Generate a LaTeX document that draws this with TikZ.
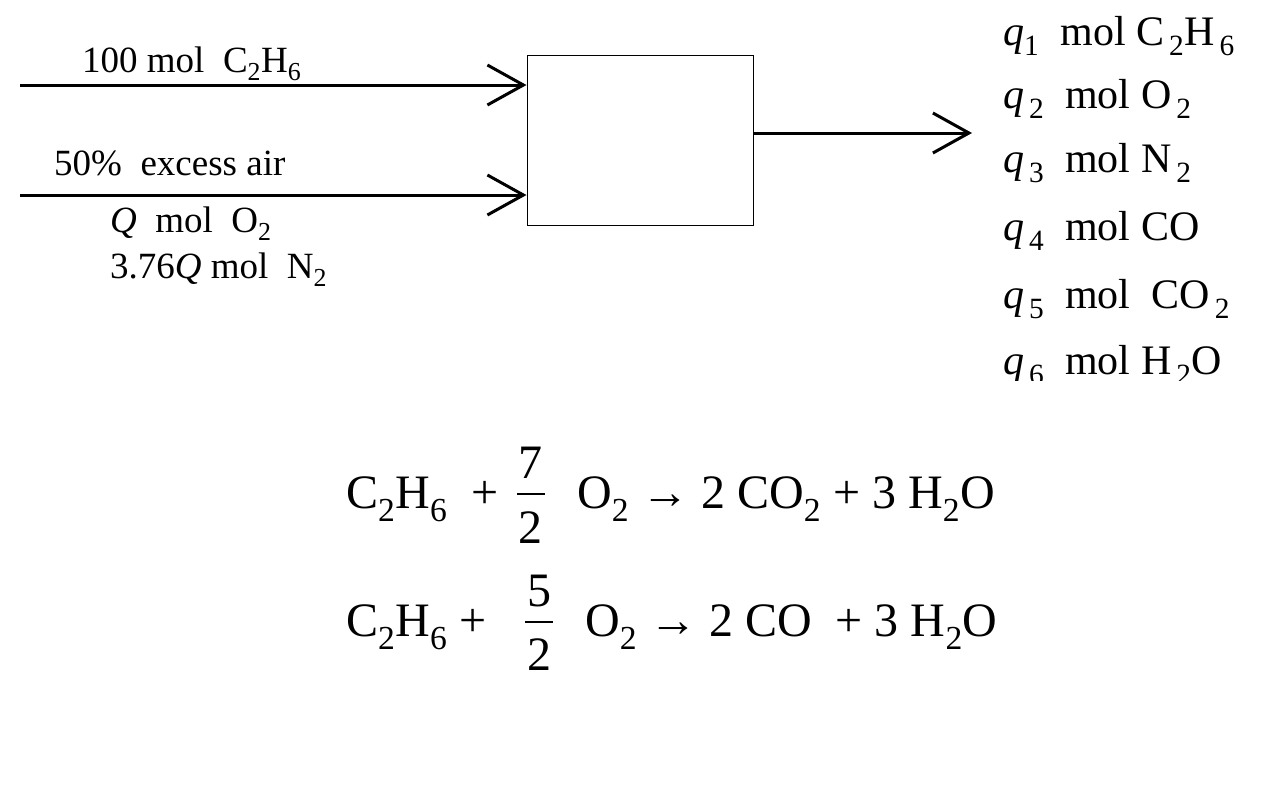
\documentclass[tikz,border=0pt]{standalone}
\usepackage{fontspec}
\setmainfont{Liberation Serif}
\usetikzlibrary{arrows.meta}
\newcommand{\sbx}[1]{\textsubscript{#1}}
\begin{document}
\begin{tikzpicture}[x=1pt,y=-1pt,
  flow/.style={line width=3pt,-{Straight Barb[length=36pt,width=40pt,line width=3pt]}},
  lbl/.style={anchor=base west,inner sep=0pt,font=\rmfamily\fontsize{37}{42}\selectfont},
  rl/.style={anchor=base west,inner sep=0pt,font=\rmfamily\fontsize{42}{48}\selectfont},
  eq/.style={anchor=base west,inner sep=0pt,font=\rmfamily\fontsize{48}{54}\selectfont},
  fr/.style={anchor=base,inner sep=0pt,font=\rmfamily\fontsize{48}{54}\selectfont}]
\useasboundingbox (0,0) rectangle (1266,788);
\node[draw,line width=1pt,minimum width=226pt,minimum height=170pt,inner sep=0pt] (box) at (640,140) {};
\coordinate (a1) at (20,85); \coordinate (a2) at (20,195);
\coordinate (o) at (972,133);
\draw[flow] (a1) -- (a1 -| box.west);
\draw[flow] (a2) -- (a2 -| box.west);
\draw[flow] (box.east |- o) -- (o);
\node[lbl] (t1) at (82,72) {100 mol\ \ C\sbx{2}H\sbx{6}};
\node[lbl] (t2) at (54,175) {50\%\ \ excess air};
\node[lbl] (t3) at (110,232) {\textit{Q}\ \ mol\ \ O\sbx{2}};
\node[lbl] (t4) at (110,278) {3.76\textit{Q} mol\ \ N\sbx{2}};
\node[rl] (r1) at (1003,45) {\textit{q}\sbx{1}\ \ mol C\sbx{\,2}H\sbx{\,6}};
\node[rl] (r2) at (1003,108) {\textit{q}\sbx{\,2}\ \ mol\ O\sbx{\,2}};
\node[rl] (r3) at (1003,172) {\textit{q}\sbx{\,3}\ \ mol\ N\sbx{\,2}};
\node[rl] (r4) at (1003,240) {\textit{q}\sbx{\,4}\ \ mol CO};
\node[rl] (r5) at (1003,308) {\textit{q}\sbx{\,5}\ \ mol\ \ CO\sbx{\,2}};
\node[rl] (r6) at (1003,374) {\textit{q}\sbx{\,6}\ \ mol H\sbx{\,2}O};
\fill[white] (990,381) rectangle (1266,400);
\node[eq] (e1) at (346,508) {C\sbx{2}H\sbx{6}\ \ +};
\node[fr] (n1) at (530,478) {7};
\node[fr] (d1) at (530,543) {2};
\draw[line width=1.5pt] (517,494) -- (545,494);
\node[eq] (e1b) at (577,508) {O\sbx{2} → 2 CO\sbx{2} + 3 H\sbx{2}O};
\node[eq] (e2) at (346,636) {C\sbx{2}H\sbx{6} +};
\node[fr] (n2) at (539,606) {5};
\node[fr] (d2) at (539,670) {2};
\draw[line width=1.5pt] (525,622) -- (553,622);
\node[eq] (e2b) at (585,636) {O\sbx{2} → 2 CO\ \ + 3 H\sbx{2}O};
\end{tikzpicture}
\end{document}
